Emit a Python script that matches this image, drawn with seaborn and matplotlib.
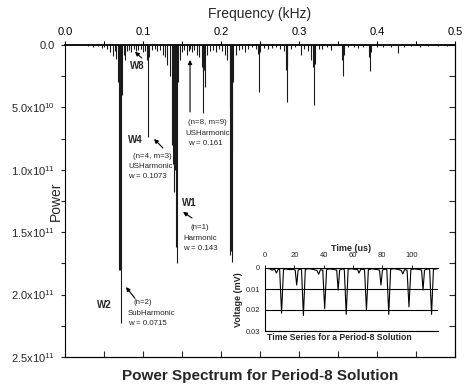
import numpy as np
import pandas as pd
import matplotlib
matplotlib.use("Agg")
import matplotlib.pyplot as plt
import seaborn as sns

# ---------------- data ----------------
# power spectrum lines: frequency (kHz) and power (units of 1e10)
freq_khz = [0.030, 0.036, 0.042, 0.047, 0.050, 0.054, 0.058, 0.061, 0.064, 0.066,
            0.068, 0.0690, 0.0700, 0.0708, 0.0718, 0.0725, 0.075, 0.077, 0.079, 0.082,
            0.085, 0.088, 0.091, 0.094, 0.097, 0.100, 0.103, 0.1055, 0.1068, 0.1080,
            0.111, 0.115, 0.118, 0.122, 0.125, 0.128, 0.131, 0.134, 0.1370, 0.1385,
            0.1397, 0.1410, 0.1425, 0.1432, 0.1445, 0.147, 0.150, 0.153, 0.156, 0.159,
            0.1603, 0.163, 0.166, 0.169, 0.172, 0.1755, 0.1765, 0.1774, 0.1785, 0.1795,
            0.182, 0.186, 0.190, 0.194, 0.198, 0.201, 0.205, 0.208, 0.2110, 0.2120,
            0.2128, 0.2137, 0.2147, 0.2160, 0.219, 0.223, 0.227, 0.231, 0.235, 0.240,
            0.245, 0.2480, 0.2490, 0.2500, 0.255, 0.260, 0.266, 0.271, 0.276, 0.281,
            0.2830, 0.2840, 0.2850, 0.290, 0.295, 0.3020, 0.3060, 0.311, 0.3160, 0.3175,
            0.3190, 0.3200, 0.325, 0.330, 0.336, 0.341, 0.3550, 0.3560, 0.3575, 0.363,
            0.370, 0.376, 0.382, 0.3900, 0.3910, 0.3925, 0.400, 0.408, 0.418, 0.4265,
            0.435, 0.444, 0.455, 0.466, 0.478, 0.490]
power_e10 = [0.10, 0.15, 0.12, 0.25, 0.20, 0.35, 0.60, 0.90, 0.50, 1.10,
             3.0, 18.0, 18.0, 17.8, 22.3, 4.0, 0.8, 1.2, 0.5, 0.4,
             0.6, 0.3, 0.5, 0.4, 0.3, 0.6, 0.5, 1.2, 7.4, 1.0,
             0.4, 0.3, 0.5, 0.4, 0.8, 1.0, 1.6, 2.5, 8.0, 9.5,
             11.8, 10.0, 16.2, 17.5, 3.0, 1.2, 0.6, 0.4, 0.8, 0.5,
             0.3, 0.6, 0.4, 0.8, 1.0, 1.8, 2.2, 5.45, 2.0, 3.4,
             0.8, 0.5, 0.4, 0.6, 0.3, 0.5, 0.8, 1.2, 5.0, 16.8,
             16.5, 17.4, 8.6, 3.0, 0.8, 0.4, 0.3, 0.55, 0.3, 0.2,
             0.35, 0.7, 3.74, 0.6, 0.25, 0.3, 0.25, 0.2, 0.3, 0.5,
             2.0, 4.54, 1.6, 0.3, 0.2, 0.8, 0.3, 0.5, 1.2, 1.75,
             4.8, 1.5, 0.3, 0.3, 0.2, 0.4, 1.2, 2.5, 0.8, 0.2,
             0.15, 0.25, 0.2, 1.0, 2.1, 0.6, 0.15, 0.2, 0.15, 0.65,
             0.15, 0.1, 0.15, 0.1, 0.12, 0.1]

freq_ticks = [0.0, 0.1, 0.2, 0.3, 0.4, 0.5]
freq_tick_labels = ["0.0", "0.1", "0.2", "0.3", "0.4", "0.5"]
power_ticks = [0.0, 5.0e10, 1.0e11, 1.5e11, 2.0e11, 2.5e11]
power_tick_labels = ["0.0", "5.0x10$^{10}$", "1.0x10$^{11}$", "1.5x10$^{11}$",
                     "2.0x10$^{11}$", "2.5x10$^{11}$"]

# inset time series
time_us = [0, 3, 5, 6.5, 7.8, 9, 10.0, 11.3, 12.6, 14, 17, 19, 20.6, 21.6, 22.6, 24,
           24.9, 26.2, 27.5, 30, 33, 35.5, 36.6, 37.8, 39.4, 40.7, 42.0, 44, 47, 48.9,
           49.9, 50.9, 53, 54.1, 55.4, 56.7, 59, 62, 63, 64.1, 65.3, 67.9, 69.2, 70.5,
           73, 76, 78.1, 79.1, 80.1, 82, 83.1, 84.4, 85.7, 88, 91, 93, 94, 95.2, 96.9,
           98.2, 99.5, 102, 105, 106.8, 107.8, 108.8, 111, 112.3, 113.6, 114.9, 117, 118]
voltage_mv = [0.0, 0.0003, 0.0010, 0.0005, 0.0024, 0.0006, 0.0008, 0.0215, 0.0008, 0.0004,
              0.0008, 0.0006, 0.0010, 0.0081, 0.0010, 0.0005, 0.0008, 0.0226, 0.0006, 0.0003,
              0.0007, 0.0012, 0.0030, 0.0008, 0.0010, 0.0194, 0.0008, 0.0004, 0.0007, 0.0010,
              0.0105, 0.0010, 0.0004, 0.0008, 0.0221, 0.0006, 0.0003, 0.0008, 0.0005, 0.0024,
              0.0006, 0.0008, 0.0202, 0.0008, 0.0004, 0.0007, 0.0010, 0.0081, 0.0010, 0.0005,
              0.0008, 0.0221, 0.0006, 0.0003, 0.0007, 0.0012, 0.0028, 0.0008, 0.0010, 0.0185,
              0.0008, 0.0004, 0.0007, 0.0010, 0.0105, 0.0010, 0.0004, 0.0008, 0.0221, 0.0006,
              0.0004, 0.0002]
time_ticks = [0, 20, 40, 60, 80, 100]
volt_ticks = [0, 0.01, 0.02, 0.03]
volt_tick_labels = ["0", "0.01", "0.02", "0.03"]

# ---------------- style ----------------
sns.set_style("white")
plt.rcParams["font.family"] = ["Liberation Sans", "DejaVu Sans"]
plt.rcParams["mathtext.fontset"] = "custom"
plt.rcParams["mathtext.rm"] = "Liberation Sans"
plt.rcParams["mathtext.default"] = "regular"

fig = plt.figure(figsize=(4.74, 3.88), dpi=100)
ax = fig.add_axes([65 / 474, 1 - 357 / 388, 390 / 474, 312 / 388])

spec = pd.DataFrame({"freq": freq_khz, "power": np.array(power_e10) * 1e10})
ax.vlines(spec["freq"], 0, spec["power"], color="#1a1a1a", lw=0.8)

ax.set_xlim(0, 0.5)
ax.set_ylim(2.5e11, 0)

# top x axis (labels)
ax.xaxis.set_ticks_position("top")
ax.xaxis.set_label_position("top")
ax.set_xticks(freq_ticks)
ax.set_xticklabels(freq_tick_labels)
ax.set_xticks(np.arange(0.05, 0.5, 0.1), minor=True)
ax.tick_params(axis="x", which="both", direction="out", length=3, width=0.8,
               labelsize=8, pad=3, top=True, bottom=False, colors="black")
ax.set_xlabel("Frequency (kHz)", fontsize=10, labelpad=6)

# left y axis (labels)
ax.set_yticks(power_ticks)
ax.set_yticklabels(power_tick_labels)
ax.set_yticks(np.arange(2.5e10, 2.5e11, 5e10), minor=True)
ax.tick_params(axis="y", which="both", direction="out", length=3, width=0.8,
               labelsize=8, pad=4, left=True, right=False)
ax.set_ylabel("Power", fontsize=10)
ax.yaxis.set_label_coords(-0.006, 0.5)

# opposite axes with inward ticks
secx = ax.secondary_xaxis("bottom")
secx.set_xticks(np.arange(0, 0.501, 0.05))
secx.set_xticklabels([])
secx.tick_params(direction="in", length=4, width=0.8)
secy = ax.secondary_yaxis("right")
secy.set_yticks(np.arange(0, 2.501e11, 2.5e10))
secy.set_yticklabels([])
secy.tick_params(direction="in", length=4, width=0.8)
for s in ["left", "right", "bottom"]:
    ax.spines[s].set_color("black")
    ax.spines[s].set_linewidth(0.8)
ax.spines["top"].set_color("black")
ax.spines["top"].set_linewidth(1.3)
for sa in (secx, secy):
    for sp in sa.spines.values():
        sp.set_linewidth(0.8)
        sp.set_color("black")

# annotations
afs = 5.7
arrow = dict(arrowstyle="-|>", color="black", lw=0.8, mutation_scale=6, shrinkA=0, shrinkB=0)

ax.text(0.0833, 1.65e10, "W8", fontsize=7, fontweight="bold", va="center", ha="left")
ax.annotate("", xy=(0.0897, 0.54e10), xytext=(0.0983, 1.04e10), arrowprops=arrow)

ax.text(0.0808, 7.6e10, "W4", fontsize=7, fontweight="bold", va="center", ha="left")
ax.annotate("", xy=(0.1141, 7.53e10), xytext=(0.1256, 8.25e10), arrowprops=arrow)
ax.text(0.0872, 8.9e10, "(n=4, m=3)", fontsize=afs, va="center", ha="left")
ax.text(0.0808, 9.7e10, "USHarmonic", fontsize=afs, va="center", ha="left")
ax.text(0.0808, 10.5e10, "w = 0.1073", fontsize=afs, va="center", ha="left")

ax.text(0.0410, 20.8e10, "W2", fontsize=7, fontweight="bold", va="center", ha="left")
ax.annotate("", xy=(0.0782, 19.4e10), xytext=(0.0897, 20.3e10), arrowprops=arrow)
ax.text(0.0872, 20.6e10, "(n=2)", fontsize=afs, va="center", ha="left")
ax.text(0.0808, 21.5e10, "SubHarmonic", fontsize=afs, va="center", ha="left")
ax.text(0.0808, 22.3e10, "w = 0.0715", fontsize=afs, va="center", ha="left")

ax.text(0.1500, 12.66e10, "W1", fontsize=7, fontweight="bold", va="center", ha="left")
ax.annotate("", xy=(0.1513, 13.38e10), xytext=(0.1628, 13.86e10), arrowprops=arrow)
ax.text(0.1603, 14.66e10, "(n=1)", fontsize=afs, va="center", ha="left")
ax.text(0.1513, 15.5e10, "Harmonic", fontsize=afs, va="center", ha="left")
ax.text(0.1513, 16.3e10, "w = 0.143", fontsize=afs, va="center", ha="left")

ax.annotate("", xy=(0.1603, 1.2e10), xytext=(0.1603, 5.37e10), arrowprops=arrow)
ax.text(0.1577, 6.25e10, "(n=8, m=9)", fontsize=afs, va="center", ha="left")
ax.text(0.1538, 7.1e10, "USHarmonic", fontsize=afs, va="center", ha="left")
ax.text(0.1577, 7.9e10, "w = 0.161", fontsize=afs, va="center", ha="left")

fig.text(0.5485, 1 - 376 / 388, "Power Spectrum for Period-8 Solution",
         fontsize=11, fontweight="bold", ha="center", va="center")

# ---------------- inset ----------------
axin = fig.add_axes([265 / 474, 1 - 331 / 388, 173 / 474, 63 / 388])
sns.lineplot(x=time_us, y=voltage_mv, ax=axin, color="black", lw=0.8)
axin.set_xlim(0, 118)
axin.set_ylim(0.03, 0)
axin.xaxis.tick_top()
axin.xaxis.set_label_position("top")
axin.set_xticks(time_ticks)
axin.set_xticklabels([str(t) for t in time_ticks])
axin.set_yticks(volt_ticks)
axin.set_yticklabels(volt_tick_labels)
axin.tick_params(axis="x", direction="out", length=2.5, width=0.7, labelsize=5.5, pad=4)
axin.tick_params(axis="y", direction="out", length=2, width=0.7, labelsize=5.3, pad=1.5)
axin.yaxis.grid(True, color="black", lw=0.8)
axin.set_xlabel("Time (us)", fontsize=6.5, fontweight="bold", labelpad=1)
axin.set_ylabel("Voltage (mV)", fontsize=6.5, fontweight="bold", labelpad=2)
axin.spines["right"].set_visible(False)
for s in ["left", "top", "bottom"]:
    axin.spines[s].set_color("black")
    axin.spines[s].set_linewidth(0.8)
fig.text(267 / 474, 1 - 338 / 388, "Time Series for a Period-8 Solution",
         fontsize=6.2, fontweight="bold", ha="left", va="center")

fig.savefig("out.png", dpi=100)
